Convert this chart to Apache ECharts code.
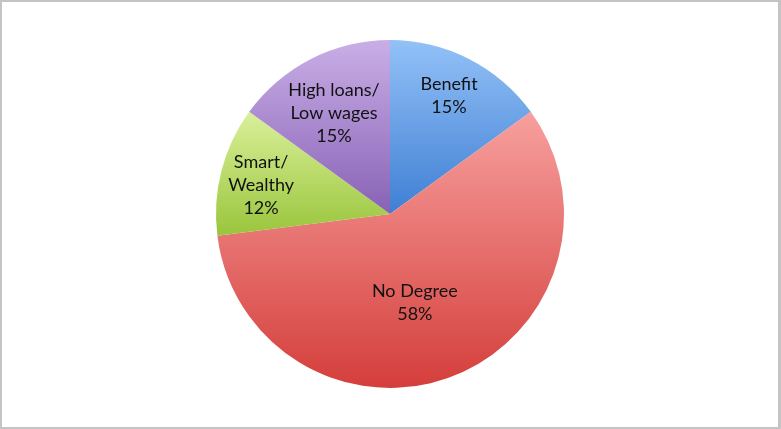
<!DOCTYPE html>
<html>
<head>
<meta charset="utf-8">
<script src="https://cdn.jsdelivr.net/npm/echarts@6/dist/echarts.min.js"></script>
<style>
html,body{margin:0;padding:0;background:#fff;}
#wrap{width:781px;height:429px;box-sizing:border-box;border:2px solid #c4c4c4;border-right-width:3px;border-bottom-width:2px;}
#chart{width:100%;height:100%;}
</style>
</head>
<body>
<div id="wrap"><div id="chart"></div></div>
<script>
const categories = ['Benefit', 'No Degree', 'Smart/\nWealthy', 'High loans/\nLow wages'];
const values = [15, 58, 12, 15];
const percentLabels = ['15%', '58%', '12%', '15%'];

const gradients = [
  ['#93c1f7', '#3f7fd4'],
  ['#f7a09e', '#d43e3b'],
  ['#d9f09a', '#9ac53c'],
  ['#c9aee6', '#8862b6']
];

function grad(c){
  return new echarts.graphic.LinearGradient(0,0,0,1,[{offset:0,color:c[0]},{offset:1,color:c[1]}]);
}

const chart = echarts.init(document.getElementById('chart'), null, {renderer:'canvas'});
const center = [388, 212];
const baseData = categories.map((c,i)=>({name:c, value:values[i], itemStyle:{color:grad(gradients[i])}}));
const labelData = categories.map((c,i)=>({name:c, value:values[i]}));
const labelShift = [[0,-2],[-23,-32],[-3,4],[3,15]];

chart.setOption({
  animation:false,
  series:[
    {
      type:'pie',
      center:center,
      radius:[0,174],
      startAngle:90,
      clockwise:true,
      silent:true,
      label:{show:false},
      labelLine:{show:false},
      itemStyle:{borderWidth:0},
      data:baseData
    },
    {
      type:'pie',
      center:center,
      radius:[80,174],
      startAngle:90,
      clockwise:true,
      silent:true,
      itemStyle:{color:'rgba(0,0,0,0)',borderWidth:0},
      label:{
        show:true,
        position:'inside',
        fontFamily:'Lato, "Open Sans", sans-serif',
        fontSize:18,
        lineHeight:23,
        color:'#111',
        align:'center',
        formatter:function(p){return p.name + '\n' + percentLabels[p.dataIndex];}
      },
      labelLayout:function(p){
        const s = labelShift[p.dataIndex];
        return {dx:s[0], dy:s[1]};
      },
      labelLine:{show:false},
      data:labelData
    }
  ]
});
</script>
</body>
</html>
